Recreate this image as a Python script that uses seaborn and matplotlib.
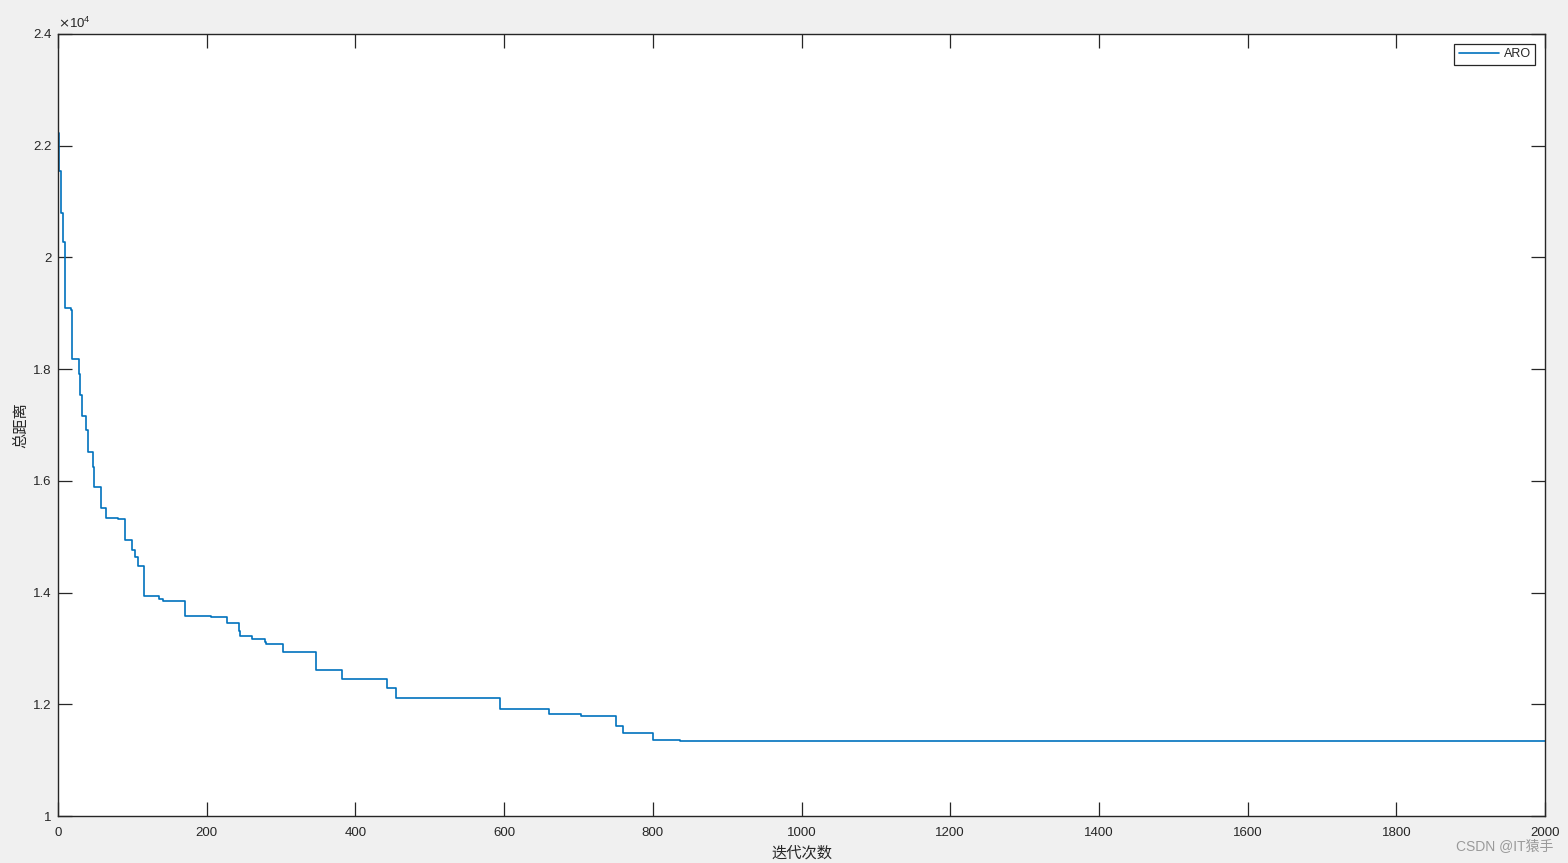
import numpy as np
import pandas as pd
import matplotlib
matplotlib.use('Agg')
import matplotlib.pyplot as plt
import seaborn as sns

sns.set_theme(style='white')
plt.rcParams['font.family'] = ['Liberation Sans', 'Noto Sans CJK SC', 'DejaVu Sans']

# convergence curve (best total distance per iteration)
iterations = [0, 2, 4, 7, 9, 10, 17, 19, 28, 30, 32, 38, 40, 47, 49, 58, 65, 81,
              90, 99, 104, 108, 116, 136, 141, 171, 206, 227, 244, 245, 261, 279,
              280, 302, 347, 382, 442, 443, 454, 595, 661, 704, 750, 760, 800, 836,
              2000]
best_distance = [22230, 21540, 20790, 20280, 19800, 19090, 19050, 18180, 17910,
                 17540, 17160, 16910, 16510, 16250, 15885, 15510, 15330, 15310,
                 14940, 14760, 14640, 14480, 13930, 13885, 13845, 13580, 13565,
                 13455, 13320, 13220, 13165, 13120, 13075, 12930, 12610, 12450,
                 12405, 12290, 12110, 11910, 11825, 11790, 11610, 11490, 11360,
                 11340, 11340]

x_ticks = [0, 200, 400, 600, 800, 1000, 1200, 1400, 1600, 1800, 2000]
y_ticks = [10000, 12000, 14000, 16000, 18000, 20000, 22000, 24000]
y_tick_labels = ['1', '1.2', '1.4', '1.6', '1.8', '2', '2.2', '2.4']

df = pd.DataFrame({'iter': iterations, 'dist': best_distance, 'algo': 'ARO'})

fig = plt.figure(figsize=(15.68, 8.63), dpi=100, facecolor='#f0f0f0')
ax = fig.add_axes([58 / 1568, 1 - 816 / 863, 1487 / 1568, 782 / 863])
ax.set_facecolor('white')

sns.lineplot(data=df, x='iter', y='dist', estimator=None, drawstyle='steps-post',
             color='#0072BD', linewidth=1.2, label='ARO', ax=ax)

ax.set_xlim(0, 2000)
ax.set_ylim(10000, 24000)
ax.set_xticks(x_ticks)
ax.set_xticklabels([str(t) for t in x_ticks])
ax.set_yticks(y_ticks)
ax.set_yticklabels(y_tick_labels)

for sp in ax.spines.values():
    sp.set_visible(True)
    sp.set_color('#262626')
    sp.set_linewidth(1.0)

ax.tick_params(axis='both', which='both', direction='in', length=10, width=0.9,
               color='#262626', labelcolor='#262626', labelsize=9.5,
               top=True, right=True, bottom=True, left=True,
               labeltop=False, labelright=False)
ax.tick_params(axis='x', pad=8)
ax.tick_params(axis='y', pad=4.5)

ax.text(0.0, 1.004, r'$\times\mathregular{10^{4}}$', transform=ax.transAxes,
        ha='left', va='bottom', fontsize=9.5, color='#262626')

ax.set_xlabel('迭代次数', fontsize=11, color='#262626', labelpad=4,
              family=['Noto Sans CJK SC', 'DejaVu Sans'])
ax.set_ylabel('总距离', fontsize=11, color='#262626',
              family=['Noto Sans CJK SC', 'DejaVu Sans'])
ax.yaxis.set_label_coords((29 - 58) / 1487, 0.5)

leg = ax.legend(loc='upper right', fontsize=9, frameon=True, fancybox=False,
                framealpha=1, edgecolor='#262626', borderaxespad=0.8,
                handlelength=3.2, borderpad=0.35, handletextpad=0.4)
leg.get_frame().set_linewidth(0.9)

fig.text(1553 / 1568, 1 - 847 / 863, 'CSDN @IT猿手', ha='right', va='center',
         fontsize=10, color='#9a9a9a',
         family=['Liberation Sans', 'Noto Sans CJK SC', 'DejaVu Sans'])

fig.savefig('out.png', dpi=100, facecolor=fig.get_facecolor())
